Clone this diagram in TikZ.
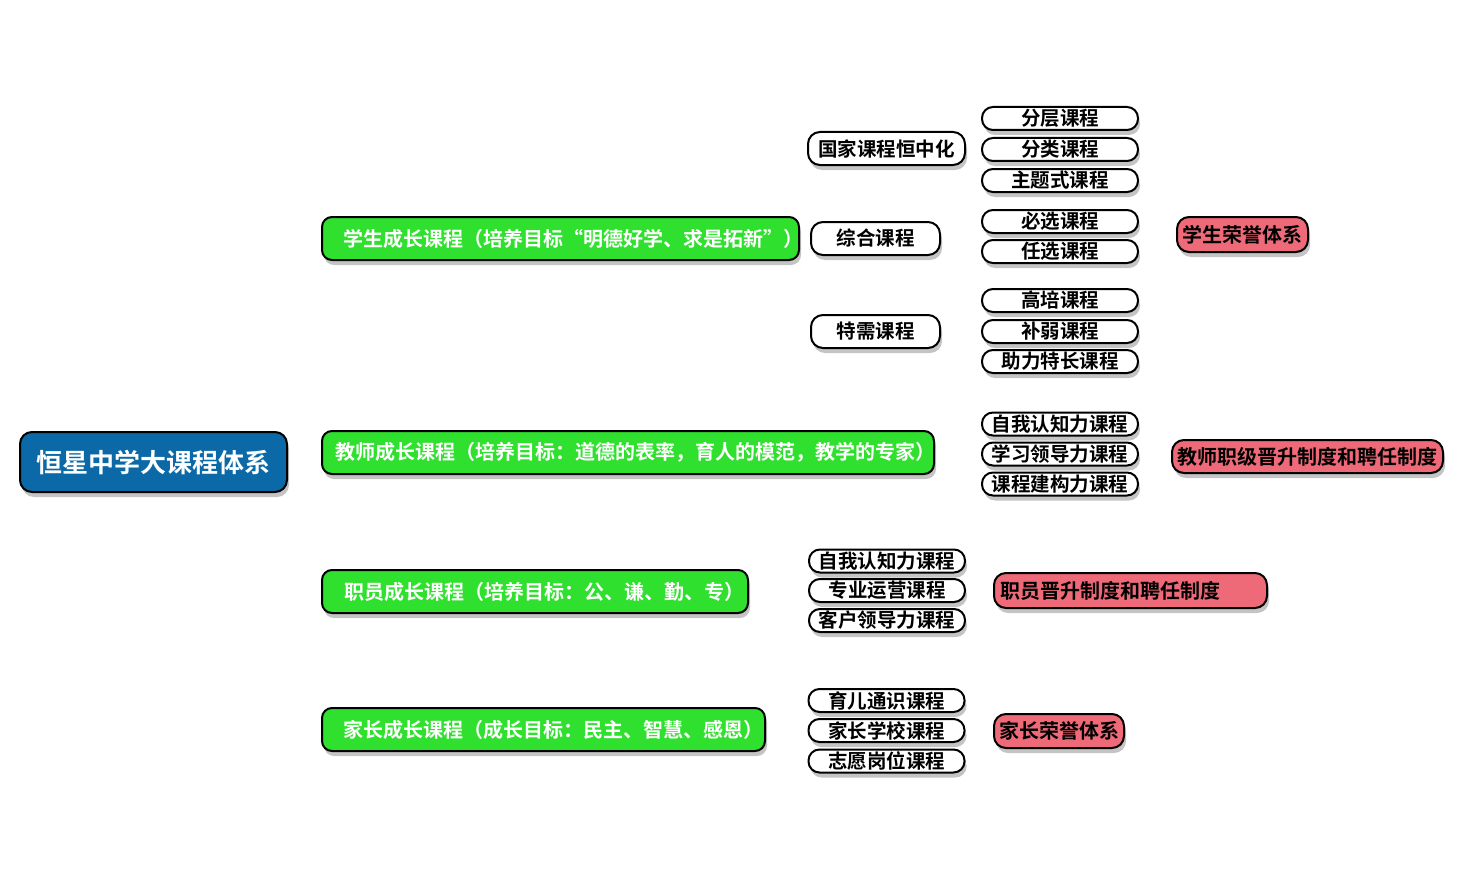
\documentclass[tikz,border=0pt]{standalone}
\usepackage{fontspec}
\setmainfont{Noto Sans CJK SC}[BoldFont={Noto Sans CJK SC Bold}]
\usetikzlibrary{shadows}
\definecolor{mainblue}{HTML}{0A69A6}
\definecolor{lgreen}{HTML}{30E02E}
\definecolor{lred}{HTML}{EF6A78}
\definecolor{shadowgray}{HTML}{C4C4C4}
\tikzset{
  base/.style={draw=black, line width=2pt, rounded corners=11pt, inner sep=0pt,
    general shadow={fill=shadowgray, draw=none, shadow xshift=2pt, shadow yshift=-5pt}},
  mainbox/.style={base, fill=mainblue, text=white, rounded corners=12pt,
    font=\bfseries\fontsize{26}{27}\selectfont},
  greenbox/.style={base, fill=lgreen, text=white, rounded corners=10pt,
    font=\bfseries\fontsize{20}{21}\selectfont, align=left},
  whitebox/.style={base, fill=white, text=black,
    font=\bfseries\fontsize{19.5}{20}\selectfont},
  redbox/.style={base, fill=lred, text=black, rounded corners=12pt,
    font=\bfseries\fontsize{20}{21}\selectfont},
  lthree/.style={whitebox, minimum width=156pt, minimum height=23pt},
}
\begin{document}
\begin{tikzpicture}[x=1pt, y=-1pt]
\path[use as bounding box] (0,0) rectangle (1467,880);

% root
\node[mainbox, minimum width=267pt, minimum height=60pt] (root) at (153.5,462) {恒星中学大课程体系};

% green level
\node[greenbox, minimum height=43pt, inner xsep=21pt, text width=435pt] (g1) at (560.5,238.5) {\mbox{学生成长课程（培养目标“明德好学、求是拓新”）}};
\node[greenbox, minimum height=43pt, inner xsep=13pt, text width=586pt] (g2) at (628,452.5) {\mbox{教师成长课程（培养目标：道德的表率，育人的模范，教学的专家）}};
\node[greenbox, minimum height=43pt, inner xsep=22pt, text width=382pt] (g3) at (535,591.5) {\mbox{职员成长课程（培养目标：公、谦、勤、专）}};
\node[greenbox, minimum height=43pt, inner xsep=21pt, text width=401pt] (g4) at (543.5,729.5) {\mbox{家长成长课程（成长目标：民主、智慧、感恩）}};

% student level 2
\node[whitebox, minimum width=157pt, minimum height=33pt, rounded corners=12pt] (s1) at (886.5,148.5) {国家课程恒中化};
\node[whitebox, minimum width=129pt, minimum height=33pt, rounded corners=12pt] (s2) at (875.5,238.5) {综合课程};
\node[whitebox, minimum width=129pt, minimum height=33pt, rounded corners=12pt] (s3) at (875.5,331.5) {特需课程};

% student level 3
\node[lthree] (s11) at (1060,118.5) {分层课程};
\node[lthree] (s12) at (1060,149.5) {分类课程};
\node[lthree] (s13) at (1060,180.5) {主题式课程};
\node[lthree] (s21) at (1060,221.5) {必选课程};
\node[lthree] (s22) at (1060,251.5) {任选课程};
\node[lthree] (s31) at (1060,300.5) {高培课程};
\node[lthree] (s32) at (1060,331.5) {补弱课程};
\node[lthree] (s33) at (1060,361.5) {助力特长课程};

% teacher level 3
\node[lthree] (t1) at (1060,424) {自我认知力课程};
\node[lthree] (t2) at (1060,454) {学习领导力课程};
\node[lthree] (t3) at (1060,484) {课程建构力课程};

% staff
\node[lthree] (z1) at (887,561) {自我认知力课程};
\node[lthree] (z2) at (887,590.5) {专业运营课程};
\node[lthree] (z3) at (887,620.5) {客户领导力课程};

% parents
\node[lthree] (p1) at (886.5,700.5) {育儿通识课程};
\node[lthree] (p2) at (886.5,730.5) {家长学校课程};
\node[lthree] (p3) at (886.5,761) {志愿岗位课程};

% red boxes
\node[redbox, minimum width=131pt, minimum height=35pt] (r1) at (1242.5,234.5) {学生荣誉体系};
\node[redbox, minimum width=271pt, minimum height=33pt] (r2) at (1307.5,456.5) {教师职级晋升制度和聘任制度};
\node[redbox, minimum height=35pt, inner xsep=6pt, text width=261pt, align=left] (r3) at (1130.5,590.5) {职员晋升制度和聘任制度};
\node[redbox, minimum width=130pt, minimum height=34pt] (r4) at (1059,731) {家长荣誉体系};
\end{tikzpicture}
\end{document}
